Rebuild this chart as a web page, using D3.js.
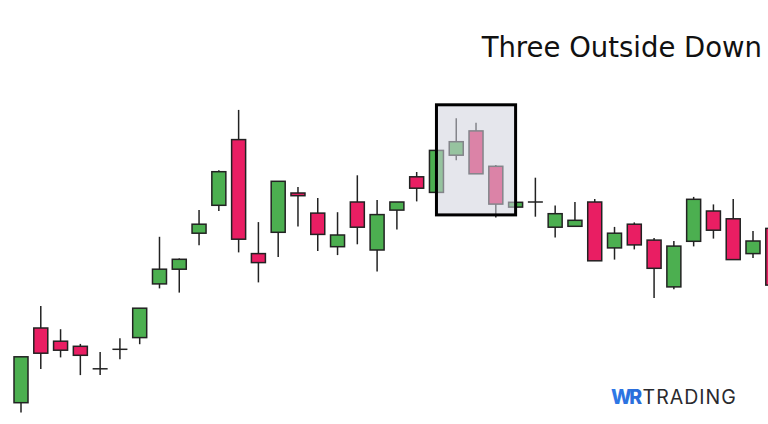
<!DOCTYPE html>
<html>
<head>
<meta charset="utf-8">
<script src="https://cdn.jsdelivr.net/npm/d3@7"></script>
<style>
  html, body { margin: 0; padding: 0; background: #fff; }
  svg { display: block; }
</style>
</head>
<body>
<svg id="chart" width="768" height="424"></svg>
<script>
// ---- data ----
const categories = d3.range(39);
const opens  = [9.1, 34.0, 29.6, 27.9, 20.4, 26.9, 30.8, 48.7, 53.6, 65.6, 74.9, 96.8, 58.8, 65.9, 79.0, 72.3, 61.1, 76.0, 60.0, 73.3, 84.4, 79.2, 91.6, 99.7, 87.9, 74.3, 76.0, 67.6, 67.9, 76.0, 60.7, 68.6, 63.3, 47.7, 62.9, 73.0, 70.4, 58.8, 67.2];
const highs  = [24.4, 41.3, 33.6, 28.7, 26.0, 30.6, 40.6, 64.4, 57.2, 73.3, 86.6, 106.7, 69.3, 82.9, 81.0, 77.3, 72.6, 84.9, 76.7, 76.0, 86.0, 93.2, 103.9, 102.4, 88.3, 75.9, 84.1, 74.8, 76.0, 77.0, 67.7, 69.2, 64.0, 63.0, 77.7, 75.2, 77.0, 66.3, 67.2];
const lows   = [5.8, 20.3, 24.2, 18.3, 18.3, 23.6, 28.6, 47.2, 45.8, 61.6, 73.0, 59.2, 49.2, 57.7, 67.8, 59.7, 58.3, 61.9, 52.8, 66.8, 76.2, 79.2, 89.9, 85.4, 70.8, 74.3, 71.1, 64.2, 67.9, 56.4, 56.8, 60.2, 44.0, 46.9, 61.2, 63.8, 56.8, 57.3, 48.3];
const closes = [24.4, 25.6, 26.6, 24.9, 20.4, 26.9, 40.6, 53.6, 56.9, 68.6, 86.1, 63.6, 55.8, 82.9, 78.1, 65.2, 65.0, 67.6, 71.8, 76.0, 80.6, 93.2, 96.1, 85.4, 75.3, 75.9, 76.0, 72.1, 69.9, 56.4, 65.6, 61.7, 53.9, 61.3, 76.9, 66.6, 56.8, 63.0, 48.3];
// highlighted pattern box: from candle index to candle index, price top/bottom
const patternStart = 21, patternEnd = 25;
const patternTop = 108.4, patternBottom = 71.7;
const title = "Three Outside Down";

const candles = categories.map(i => ({i, o: opens[i], h: highs[i], l: lows[i], c: closes[i]}));

const svg = d3.select("#chart");

const x = d3.scaleLinear().domain([0, 37]).range([21, 753]);
const y = d3.scaleLinear().domain([0, 100]).range([430, 130]);
const bodyW = 14;

const green = "#4caf50", red = "#e91e63", edge = "#222";

const g = svg.append("g");

// wicks
g.selectAll("line.wick").data(candles).join("line")
  .attr("class", "wick")
  .attr("x1", d => x(d.i)).attr("x2", d => x(d.i))
  .attr("y1", d => y(d.h)).attr("y2", d => y(d.l))
  .attr("stroke", edge).attr("stroke-width", 1.5);

// bodies
const bodies = candles.filter(d => d.o !== d.c);
g.selectAll("rect.body").data(bodies).join("rect")
  .attr("class", "body")
  .attr("x", d => x(d.i) - bodyW / 2)
  .attr("width", bodyW)
  .attr("y", d => y(Math.max(d.o, d.c)))
  .attr("height", d => Math.max(1, y(Math.min(d.o, d.c)) - y(Math.max(d.o, d.c))))
  .attr("fill", d => d.c > d.o ? green : red)
  .attr("stroke", edge).attr("stroke-width", 1.5);

// doji ticks
const dojis = candles.filter(d => d.o === d.c);
g.selectAll("line.doji").data(dojis).join("line")
  .attr("class", "doji")
  .attr("x1", d => x(d.i) - bodyW / 2 - 0.5).attr("x2", d => x(d.i) + bodyW / 2 + 0.5)
  .attr("y1", d => y(d.o)).attr("y2", d => y(d.o))
  .attr("stroke", edge).attr("stroke-width", 1.5);

// pattern highlight box
svg.append("rect")
  .attr("x", x(patternStart))
  .attr("y", y(patternTop))
  .attr("width", x(patternEnd) - x(patternStart))
  .attr("height", y(patternBottom) - y(patternTop))
  .attr("fill", "rgb(209,211,221)").attr("fill-opacity", 0.56)
  .attr("stroke", "#000").attr("stroke-width", 3);

// title
svg.append("text")
  .attr("x", 762).attr("y", 57)
  .attr("text-anchor", "end")
  .attr("font-family", "'DejaVu Sans', Verdana, sans-serif")
  .attr("font-size", 27.5)
  .attr("fill", "#111")
  .text(title);

// logo
const defs = svg.append("defs");
const grad = defs.append("linearGradient").attr("id", "wrgrad")
  .attr("x1", "0%").attr("x2", "100%").attr("y1", "0%").attr("y2", "0%");
grad.append("stop").attr("offset", "0%").attr("stop-color", "#2f7ae8");
grad.append("stop").attr("offset", "100%").attr("stop-color", "#1a3aa6");

const logo = svg.append("text")
  .attr("x", 611).attr("y", 403.5)
  .attr("font-family", "Inter, 'Noto Sans', sans-serif")
  .attr("font-size", 19.5);
logo.append("tspan").attr("font-weight", 800).attr("fill", "url(#wrgrad)")
  .attr("letter-spacing", -2.5).text("WR");
logo.append("tspan").attr("font-weight", 400).attr("fill", "#2a2a2e")
  .attr("dx", 3).attr("letter-spacing", 1).text("TRADING");
</script>
</body>
</html>
